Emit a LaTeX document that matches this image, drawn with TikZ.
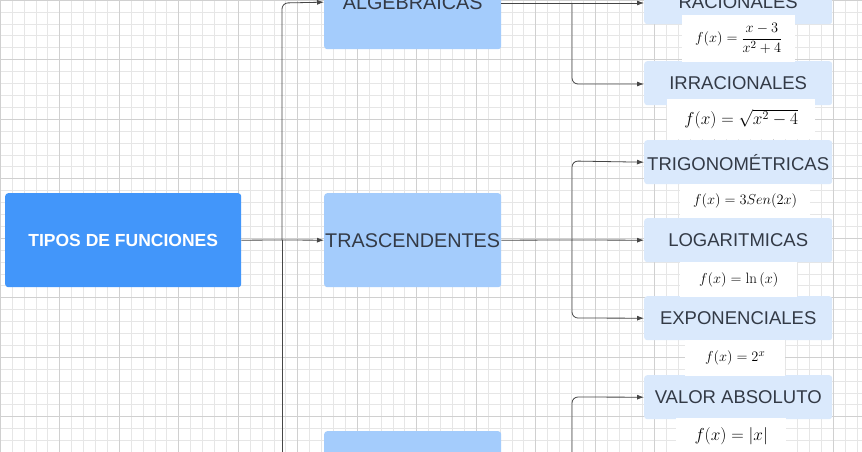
\documentclass[tikz,border=0pt]{standalone}
\usepackage{amsmath}
\usepackage{fontspec}
\setmainfont{Liberation Sans}
\setmathrm{Latin Modern Roman}
\usetikzlibrary{arrows.meta}
\definecolor{mainblue}{RGB}{66,150,250}
\definecolor{midblue}{RGB}{164,204,252}
\definecolor{lightblue}{RGB}{218,233,252}
\definecolor{txt}{RGB}{51,58,70}
\definecolor{ln}{RGB}{70,70,70}
\definecolor{gridminor}{RGB}{230,230,230}
\definecolor{gridmajor}{RGB}{208,208,208}
\tikzset{
 box/.style={rounded corners=3pt,inner sep=0pt,anchor=north west},
 mainbox/.style={box,fill=mainblue,text=white,font=\bfseries\fontsize{17.5}{20}\selectfont},
 catbox/.style={box,fill=midblue,text=txt,font=\fontsize{19.8}{22}\selectfont},
 subbox/.style={box,fill=lightblue,text=txt,font=\fontsize{18.5}{20}\selectfont},
 fbox/.style={fill=white,inner sep=0pt,anchor=north west,font=\fontsize{15}{18}\selectfont},
 conn/.style={draw=ln,line width=0.8pt,rounded corners=6pt},
 arr/.style={conn,-{Latex[length=7pt,width=5pt]}},
}
\begin{document}
\begin{tikzpicture}[x=1pt,y=-1pt]
\useasboundingbox (0,0) rectangle (862,452);
\clip (0,0) rectangle (862,452);
\fill[white] (0,0) rectangle (862,452);
\foreach \i in {0,...,73} {
  \draw[gridminor,line width=0.4pt] (\i*11.9,0) -- (\i*11.9,452);
}
\foreach \i in {0,...,38} {
  \draw[gridminor,line width=0.4pt] (0,\i*11.9) -- (862,\i*11.9);
}
\foreach \i in {0,...,14} {
  \draw[gridmajor,line width=0.5pt] (\i*59.5,0) -- (\i*59.5,452);
}
\foreach \i in {0,...,7} {
  \draw[gridmajor,line width=0.5pt] (0,\i*59.5) -- (862,\i*59.5);
}
% main
\node[mainbox,minimum width=236,minimum height=94] (main) at (5,193) {TIPOS DE FUNCIONES};
% categories
\node[catbox,minimum width=177,minimum height=94] (alg) at (324,-45) {ALGEBRAICAS};
\node[catbox,minimum width=177,minimum height=94] (tra) at (324,193) {TRASCENDENTES};
\node[catbox,minimum width=177,minimum height=94] (oth) at (324,431) {};
% sub boxes
\node[subbox,minimum width=188,minimum height=44] (rac) at (644,-20) {RACIONALES};
\node[subbox,minimum width=188,minimum height=44] (irr) at (644,61) {IRRACIONALES};
\node[subbox,minimum width=188,minimum height=44] (tri) at (644,140) {TRIGONOMÉTRICAS};
\node[subbox,minimum width=188,minimum height=44] (log) at (644,218) {LOGARITMICAS};
\node[subbox,minimum width=188,minimum height=44] (exp) at (644,296) {EXPONENCIALES};
\node[subbox,minimum width=188,minimum height=44] (val) at (644,375) {VALOR ABSOLUTO};
% formulas
\node[fbox,minimum width=113,minimum height=47] (frac) at (682,15) {$f(x)=\dfrac{x-3}{x^2+4}$};
\node[fbox,minimum width=148,minimum height=40,font=\fontsize{18}{22}\selectfont] (firr) at (667,99) {$f(x)=\sqrt{x^2-4}$};
\node[fbox,minimum width=130,minimum height=34] (ftri) at (680,184) {$f(x)=3\mathnormal{Sen}(2x)$};
\node[fbox,minimum width=117,minimum height=35] (flog) at (680,262) {$f(x)=\ln{(x)}$};
\node[fbox,minimum width=100,minimum height=36] (fexp) at (685,340) {$f(x)=2^x$};
\node[fbox,minimum width=110,minimum height=36,font=\fontsize{19}{22}\selectfont] (fval) at (676,418) {$f(x)=|x|$};
% connectors level 1
\coordinate (j1) at (282,240);
\draw[conn] (main.east) -- (j1);
\draw[arr] (j1) -- (282,3) -- (alg.east -| alg.west);
\draw[arr] (j1) -- (tra.west);
\draw[conn] (j1) -- (282,460);
% level 2 algebraicas
\coordinate (j2) at (572,3);
\draw[conn] (alg.east |- j2) -- (j2);
\draw[arr] (j2) -- (rac.west |- j2);
\draw[arr] (j2) -- (572,84) -- (irr.west |- 0,84);
% level 2 trascendentes
\coordinate (j3) at (572,240);
\draw[conn] (tra.east) -- (j3);
\draw[arr] (j3) -- (572,161) -- (tri.west);
\draw[arr] (j3) -- (log.west);
\draw[arr] (j3) -- (572,318) -- (exp.west);
% third
\draw[arr] (572,460) -- (572,397) -- (val.west);
\end{tikzpicture}
\end{document}
